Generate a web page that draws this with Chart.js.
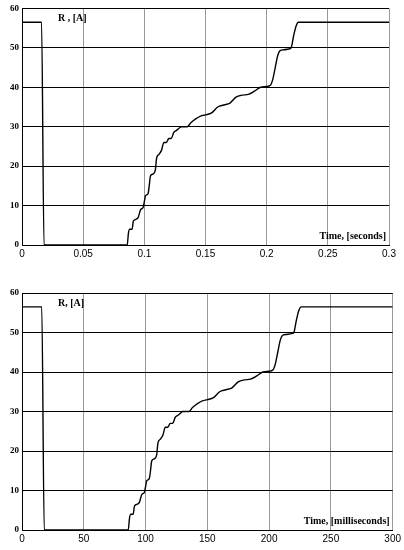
<!DOCTYPE html>
<html>
<head>
<script src="https://cdn.jsdelivr.net/npm/chart.js@4"></script>
<style>
body { margin: 0; background: #fff; }
.box { position: absolute; left: 0; width: 404px; }
</style>
</head>
<body>
<div class="box" style="top:0;height:268px"><canvas id="top"></canvas></div>
<div class="box" style="top:280px;height:270px"><canvas id="bottom"></canvas></div>
<script>
// time in milliseconds, current in amperes
const timeMs = [0, 16, 18, 86, 87, 88, 90, 91, 93, 95, 97, 99, 100, 101, 103, 104, 105, 107, 109, 110, 112, 114, 116, 118, 120, 122, 124, 126, 128, 130, 135, 138, 142, 146, 150, 155, 160, 165, 170, 175, 180, 185, 190, 195, 200, 203, 205, 207, 209, 211, 214, 218, 220, 222, 224, 226, 300];
const current = [56.5, 56.5, 0, 0, 3, 4, 4, 6, 6.5, 7, 9, 9.5, 11, 12.5, 13, 15, 17.5, 18, 19, 22, 23, 24, 26, 26, 27, 27, 28.5, 29, 29.5, 30, 30, 31, 32, 32.7, 33, 33.5, 35, 35.5, 36, 37.5, 38, 38.2, 39, 40, 40.2, 40.5, 42, 45, 48, 49.3, 49.5, 49.7, 50, 53, 55.5, 56.5, 56.5];
const yTicks = [0, 10, 20, 30, 40, 50, 60];

const labelPlugin = {
    id: 'labels',
    afterDraw(chart, args, opts) {
        const ctx = chart.ctx, a = chart.chartArea;
        ctx.save();
        ctx.fillStyle = '#000';
        ctx.font = 'bold 10px "Liberation Serif"';
        ctx.textBaseline = 'top';
        ctx.textAlign = 'left';
        ctx.fillText(opts.yTitle, a.left + 36, a.top + 5);
        ctx.textAlign = 'right';
        ctx.textBaseline = 'bottom';
        ctx.fillText(opts.xTitle, a.right - 3, a.bottom - 4);
        ctx.restore();
    }
};

function makeChart(id, xs, xMax, xStep, yTitle, xTitle, pad) {
    new Chart(document.getElementById(id), {
        type: 'line',
        data: {
            datasets: [{
                data: xs.map((x, i) => ({ x: x, y: current[i] })),
                borderColor: '#000',
                borderWidth: 1.4,
                pointRadius: 0,
                cubicInterpolationMode: 'monotone'
            }]
        },
        options: {
            responsive: true,
            maintainAspectRatio: false,
            animation: false,
            layout: { padding: pad },
            plugins: { legend: { display: false }, tooltip: { enabled: false }, labels: { yTitle: yTitle, xTitle: xTitle } },
            scales: {
                x: {
                    type: 'linear', min: 0, max: xMax,
                    afterFit: s => { s.height = 20; },
                    ticks: { stepSize: xStep, color: '#000', font: { size: 10, family: 'Liberation Sans' },
                        callback: v => String(+v.toFixed(3)) },
                    grid: { color: '#999', drawTicks: false },
                    border: { color: '#000' }
                },
                y: {
                    min: 0, max: 60,
                    afterFit: s => { s.width = 22; },
                    afterBuildTicks: s => { s.ticks = yTicks.map(v => ({ value: v })); },
                    ticks: { color: '#000', font: { size: 9, weight: 'bold', family: 'Liberation Serif' } },
                    grid: { color: '#000', drawTicks: false },
                    border: { color: '#000' }
                }
            }
        },
        plugins: [labelPlugin]
    });
}

makeChart('top', timeMs.map(t => t / 1000), 0.3, 0.05, 'R , [A]', 'Time, [seconds]', { top: 8, right: 15, left: 0, bottom: 3 });
makeChart('bottom', timeMs, 300, 50, 'R, [A]', 'Time, [milliseconds]', { top: 13, right: 10, left: 0, bottom: 0 });
</script>
</body>
</html>
